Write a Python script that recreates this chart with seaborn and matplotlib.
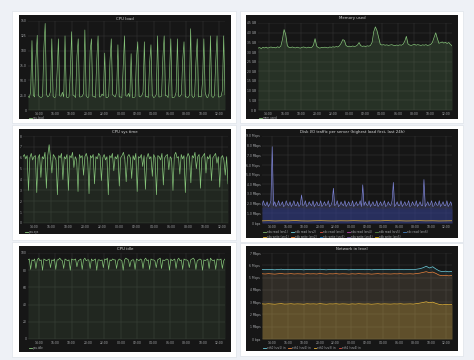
#! /usr/bin/env python3

import numpy as np
import seaborn as sns
import matplotlib.pyplot as plt
from matplotlib.patches import Rectangle
from matplotlib.lines import Line2D

# ---- data ----
time_labels = ["14:00", "16:00", "18:00", "20:00", "22:00", "00:00",
               "02:00", "04:00", "06:00", "08:00", "10:00", "12:00"]

cpu_load = [
    23, 21, 30, 117, 25, 22, 86, 126, 24, 22,
    21, 23, 104, 146, 26, 22, 24, 31, 120, 23,
    21, 22, 64, 120, 24, 23, 30, 22, 125, 22,
    21, 22, 62, 132, 25, 24, 21, 90, 120, 22,
    22, 23, 28, 135, 24, 21, 22, 100, 120, 23,
    23, 21, 84, 125, 22, 22, 27, 24, 96, 21,
    21, 23, 82, 120, 26, 24, 22, 30, 110, 22,
    22, 21, 75, 125, 24, 23, 28, 22, 95, 21,
    21, 22, 86, 115, 23, 22, 24, 30, 115, 22,
    23, 21, 80, 110, 25, 21, 22, 26, 125, 22,
    22, 23, 88, 125, 24, 24, 21, 60, 120, 21,
    21, 22, 30, 120, 23, 23, 26, 84, 115, 22,
    22, 21, 24, 137, 24, 21, 23, 80, 120, 22,
    23, 22, 48, 120, 30, 22, 21, 28, 125, 23,
    21, 24, 82, 125, 22, 22, 23, 33, 125, 26,
]

memory_used = [
    32.0, 32.3, 31.8, 32.4, 32.1, 32.5, 32.0, 32.3, 32.6, 32.2,
    32.4, 32.1, 32.7, 32.3, 33.0, 36.5, 41.6, 39.0, 33.2, 32.4,
    32.2, 32.6, 32.3, 32.1, 32.5, 32.2, 32.0, 32.4, 32.6, 32.3,
    32.1, 32.5, 32.2, 32.4, 33.5, 36.9, 33.0, 32.3, 32.0, 32.4,
    32.2, 32.5, 32.3, 32.1, 32.6, 32.4, 32.7, 32.5, 32.8, 32.6,
    33.2, 34.5, 36.4, 36.0, 33.4, 32.8, 33.0, 32.7, 33.1, 32.9,
    33.0, 33.6, 34.9, 33.3, 32.9, 33.1, 32.8, 33.2, 33.0, 33.4,
    35.0, 40.5, 43.0, 41.0, 37.5, 34.0, 33.6, 33.8, 33.5, 33.7,
    33.4, 33.6, 33.8, 33.5, 33.3, 33.6, 33.4, 33.7, 33.5, 34.0,
    35.5, 38.1, 34.2, 33.6, 33.4, 33.7, 34.0, 33.5, 33.8, 33.6,
    33.4, 33.7, 33.5, 33.8, 33.4, 33.6, 33.9, 35.0, 37.5, 39.9,
    37.0, 34.5, 34.8, 35.2, 34.6, 35.0, 34.4, 34.9, 34.0, 33.2,
]

cpu_sys = [
    6.1, 6.3, 5.9, 6.2, 3.0, 6.0, 6.4, 5.8, 6.1, 6.2,
    2.8, 6.0, 6.3, 4.2, 6.1, 5.9, 6.5, 3.2, 6.2, 7.2,
    6.0, 4.6, 6.3, 6.1, 5.8, 2.6, 6.2, 6.0, 6.4, 4.0,
    6.1, 5.9, 6.3, 3.0, 6.2, 6.0, 6.5, 5.1, 6.1, 5.8,
    2.9, 6.3, 6.0, 6.2, 4.4, 6.1, 6.4, 5.9, 2.7, 6.2,
    6.0, 6.3, 3.6, 6.1, 5.9, 6.4, 6.2, 3.9, 6.0, 6.3,
    5.8, 6.1, 2.6, 6.2, 6.0, 6.4, 4.8, 6.1, 5.9, 6.3,
    3.4, 6.0, 6.2, 6.5, 5.9, 3.8, 6.1, 6.3, 6.0, 4.1,
    6.2, 5.8, 6.4, 2.9, 6.1, 6.0, 6.3, 5.2, 6.2, 3.1,
    6.0, 6.4, 5.9, 6.1, 4.3, 6.3, 6.0, 2.6, 6.2, 6.1,
    5.8, 6.4, 3.5, 6.0, 6.2, 6.3, 4.9, 6.1, 5.9, 3.0,
    6.2, 6.5, 6.0, 6.1, 4.5, 6.3, 5.9, 6.2, 2.8, 6.0,
    6.4, 6.1, 3.7, 6.2, 6.0, 6.5, 5.0, 6.1, 6.3, 3.2,
    6.0, 6.2, 6.4, 4.6, 6.1, 5.9, 6.3, 3.9, 6.0, 6.2,
    6.4, 5.5, 6.1, 3.3, 6.0, 6.2, 5.8, 4.4, 6.1, 3.6,
]

disk_sda = [
    1.8, 2.3, 1.9, 1.8, 2.2, 1.7, 1.9, 2.3, 7.9, 1.8,
    2.2, 1.7, 1.9, 2.3, 1.8, 1.9, 2.2, 1.7, 1.8, 2.3,
    1.9, 1.8, 2.2, 1.7, 1.9, 2.3, 1.8, 1.8, 2.2, 1.7,
    1.9, 2.9, 1.8, 1.9, 2.3, 1.7, 1.8, 2.2, 1.9, 1.8,
    2.3, 1.7, 1.9, 2.2, 1.8, 1.8, 2.3, 1.7, 1.9, 2.2,
    1.8, 1.9, 2.3, 1.7, 1.8, 2.2, 3.6, 1.8, 1.9, 2.3,
    1.7, 1.8, 2.2, 1.9, 1.8, 2.3, 1.7, 1.9, 2.2, 1.8,
    1.8, 2.3, 1.7, 1.9, 2.2, 1.8, 1.9, 2.3, 1.7, 3.95,
    1.8, 2.2, 1.9, 1.8, 2.3, 1.7, 1.9, 2.2, 1.8, 1.8,
    2.3, 1.7, 1.9, 2.2, 1.8, 1.9, 2.3, 1.7, 1.8, 2.2,
    1.9, 1.8, 2.3, 4.2, 1.7, 1.9, 2.2, 1.8, 1.8, 2.3,
    1.7, 1.9, 2.2, 1.8, 1.9, 2.3, 1.7, 1.8, 2.2, 1.9,
    1.8, 2.3, 1.7, 1.9, 2.2, 1.8, 1.8, 4.5, 1.7, 1.9,
    2.2, 1.8, 1.9, 2.3, 1.7, 1.8, 2.2, 1.9, 1.8, 2.3,
    1.7, 1.9, 2.2, 1.8, 1.8, 2.3, 1.7, 1.9, 2.2, 1.8,
]
disk_sdb = [
    1.45, 1.48, 1.44, 1.47, 1.46, 1.45, 1.49, 1.44, 1.46, 1.47,
    1.45, 1.48, 1.46, 1.44, 1.47, 1.45, 1.46, 1.48, 1.45, 1.44,
    1.47, 1.46, 1.45, 1.48, 1.44, 1.46, 1.47, 1.45, 1.46, 1.45,
]
disk_sdc = [
    0.22, 0.24, 0.21, 0.23, 0.22, 0.25, 0.22, 0.21, 0.23, 0.24,
    0.22, 0.21, 0.23, 0.22, 0.24, 0.22, 0.21, 0.23, 0.22, 0.25,
    0.22, 0.23, 0.21, 0.22, 0.24, 0.22, 0.23, 0.21, 0.22, 0.23,
]
disk_labels = ["sda read (srv1)", "sda write (srv1)", "sdb read (srv2)",
               "sdb write (srv2)", "sdc read (srv3)", "sdc write (srv3)",
               "sda read (srv4)", "sda write (srv4)", "sdb read (srv5)",
               "sdb write (srv5)", "sdc read (srv6)"]

cpu_idle = [
    92, 93, 81, 92, 91, 93, 82, 92, 94, 91,
    92, 80, 93, 92, 91, 92, 93, 83, 92, 91,
    93, 81, 92, 92, 94, 92, 91, 82, 93, 92,
    91, 92, 80, 93, 92, 92, 93, 84, 91, 92,
    93, 81, 92, 94, 91, 92, 92, 82, 93, 91,
    92, 93, 80, 92, 92, 91, 92, 83, 93, 92,
    94, 81, 92, 91, 93, 92, 92, 82, 91, 93,
    92, 91, 80, 92, 94, 93, 92, 84, 91, 92,
    92, 81, 93, 92, 91, 93, 92, 82, 92, 94,
    91, 92, 81, 93, 92, 92, 91, 83, 92, 93,
    94, 82, 92, 91, 92, 93, 92, 80, 93, 91,
    92, 93, 82, 92, 94, 91, 92, 81, 93, 92,
    92, 91, 83, 92, 93, 94, 92, 81, 91, 92,
    93, 92, 80, 92, 91, 92, 93, 82, 94, 92,
    91, 92, 81, 93, 92, 92, 93, 82, 91, 93,
]

net_cyan = [
    5.66, 5.64, 5.67, 5.65, 5.63, 5.66, 5.68, 5.64, 5.65, 5.67,
    5.64, 5.66, 5.65, 5.63, 5.67, 5.65, 5.66, 5.64, 5.68, 5.65,
    5.63, 5.66, 5.65, 5.67, 5.64, 5.66, 5.65, 5.63, 5.66, 5.64,
    5.67, 5.65, 5.64, 5.66, 5.63, 5.65, 5.67, 5.64, 5.66, 5.65,
    5.64, 5.66, 5.65, 5.67, 5.64, 5.65, 5.66, 5.64, 5.68, 5.72,
    5.80, 5.92, 5.78, 5.88, 5.70, 5.55, 5.48, 5.52, 5.47, 5.50,
]
net_orange = [
    5.31, 5.29, 5.32, 5.30, 5.28, 5.31, 5.33, 5.29, 5.30, 5.32,
    5.29, 5.31, 5.30, 5.28, 5.32, 5.30, 5.31, 5.29, 5.33, 5.30,
    5.28, 5.31, 5.30, 5.32, 5.29, 5.31, 5.30, 5.28, 5.31, 5.29,
    5.32, 5.30, 5.29, 5.31, 5.28, 5.30, 5.32, 5.29, 5.31, 5.30,
    5.29, 5.31, 5.30, 5.32, 5.29, 5.30, 5.31, 5.29, 5.33, 5.36,
    5.42, 5.48, 5.40, 5.45, 5.34, 5.20, 5.15, 5.18, 5.14, 5.17,
]
net_yellow = [
    2.86, 2.84, 2.87, 2.85, 2.83, 2.86, 2.88, 2.84, 2.85, 2.87,
    2.84, 2.86, 2.85, 2.83, 2.87, 2.85, 2.86, 2.84, 2.88, 2.85,
    2.83, 2.86, 2.85, 2.87, 2.84, 2.86, 2.85, 2.83, 2.86, 2.84,
    2.87, 2.85, 2.84, 2.86, 2.83, 2.85, 2.87, 2.84, 2.86, 2.85,
    2.84, 2.86, 2.85, 2.87, 2.84, 2.85, 2.86, 2.84, 2.88, 2.92,
    2.97, 3.03, 2.95, 3.00, 2.90, 2.82, 2.78, 2.81, 2.79, 2.80,
]
net_labels = ["eth0 (srv1) in", "eth1 (srv2) in", "eth0 (srv3) in", "eth1 (srv4) in"]

# ---- layout helpers (pixel boxes on a 474x360 canvas) ----
W, H = 474, 360
BG = '#161616'
TXT = '#a9abae'
GREEN = '#86c57a'


def fbox(x1, y1, x2, y2):
    return [x1 / W, 1 - y2 / H, (x2 - x1) / W, (y2 - y1) / H]


def panel(fig, outer, inner, title):
    x1, y1, x2, y2 = outer
    fig.add_artist(Rectangle((x1 / W, 1 - y2 / H), (x2 - x1) / W, (y2 - y1) / H,
                             transform=fig.transFigure, facecolor=BG,
                             edgecolor='none', zorder=1))
    fig.text((x1 + x2) / 2 / W, 1 - (y1 + 3.5) / H, title, color='#d8d9da',
             fontsize=2.8, ha='center', va='center', zorder=3)
    ax = fig.add_axes(fbox(*inner), zorder=2)
    ax.set_facecolor(BG)
    for s in ax.spines.values():
        s.set_visible(False)
    ax.grid(True, color='#3a3a3a', linewidth=0.35)
    ax.set_axisbelow(True)
    ax.tick_params(length=0, labelsize=2.2, labelcolor=TXT, pad=1.2)
    ax.set_xlim(0, 24)
    ax.set_xticks([1.3 + 2 * k for k in range(len(time_labels))])
    ax.set_xticklabels(time_labels)
    ax.set_xlabel('')
    ax.set_ylabel('')
    return ax


def series(ax, vals, color, lw=0.5, alpha=0.12, label=None):
    x = np.linspace(0, 24, len(vals))
    ax.fill_between(x, 0, vals, color=color, alpha=alpha, linewidth=0)
    sns.lineplot(x=x, y=vals, ax=ax, color=color, linewidth=lw, label=label,
                 legend=False)


def small_legend(ax, handles, labels, anchor, ncol):
    ax.legend(handles, labels, loc='upper left', bbox_to_anchor=anchor,
              bbox_transform=ax.figure.transFigure, ncol=ncol, frameon=False,
              fontsize=2.0, labelcolor=TXT, handlelength=0.9,
              handletextpad=0.4, columnspacing=1.0, borderpad=0,
              labelspacing=0.25)


fig = plt.figure(figsize=(4.74, 3.6), dpi=100, facecolor='#eef1f6')

# white cards behind the panels
for (x1, y1, x2, y2) in [(12, 11, 236, 123), (240, 11, 463, 123),
                         (12, 125, 236, 240), (240, 125, 463, 242),
                         (12, 242, 236, 357), (240, 243, 463, 356)]:
    fig.add_artist(Rectangle((x1 / W, 1 - y2 / H), (x2 - x1) / W, (y2 - y1) / H,
                             transform=fig.transFigure, facecolor='white',
                             edgecolor='#dfe3ea', linewidth=0.5, zorder=0))

# CPU load
ax = panel(fig, (19, 15, 231, 119), (28, 21, 225, 110), 'CPU load')
series(ax, cpu_load, GREEN, lw=0.45, alpha=0.14)
ax.set_ylim(0, 150)
ax.set_yticks([0, 25, 50, 75, 100, 125, 150])
ax.set_yticklabels(['0', '25.0', '50.0', '75.0', '100', '125', '150'])
small_legend(ax, [Line2D([], [], color=GREEN, lw=0.6)], ['cpu.load'],
             (28 / W, 1 - 114.5 / H), 1)

# Memory used
ax = panel(fig, (246, 15, 458, 119), (258, 23, 452, 110), 'Memory used')
series(ax, memory_used, GREEN, alpha=0.16)
ax.set_ylim(0, 45)
ax.set_yticks(range(0, 50, 5))
ax.set_yticklabels(['0 B'] + ['%d GB' % v for v in range(5, 50, 5)])
small_legend(ax, [Line2D([], [], color=GREEN, lw=0.6)], ['mem.used'],
             (258 / W, 1 - 114.5 / H), 1)

# CPU sys time
ax = panel(fig, (19, 129, 231, 234), (23, 136, 228, 223), 'CPU sys time')
series(ax, cpu_sys, GREEN, alpha=0.1)
ax.set_ylim(0, 8)
ax.set_yticks(range(0, 9))
small_legend(ax, [Line2D([], [], color=GREEN, lw=0.6)], ['cpu.sys'],
             (24 / W, 1 - 229 / H), 1)

# Disk I/O
ax = panel(fig, (246, 129, 458, 238), (262, 136, 452, 223),
           'Disk I/O traffic per server (highest load first, last 24h)')
series(ax, disk_sda, '#8087dc', lw=0.45, alpha=0.22)
series(ax, disk_sdb, '#25307a', lw=0.3, alpha=0.5)
series(ax, disk_sdc, '#eab839', lw=0.5, alpha=0.0)
ax.set_ylim(0, 9)
ax.set_yticks(range(0, 10))
ax.set_yticklabels(['0 bps'] + ['%.1f Mbps' % v for v in range(1, 10)])
disk_colors = ['#7eb26d', '#eab839', '#6ed0e0', '#ef843c', '#e24d42',
               '#1f78c1', '#ba43a9', '#705da0', '#508642', '#cca300',
               '#447ebc']
small_legend(ax, [Line2D([], [], color=c, lw=0.6) for c in disk_colors],
             disk_labels, (262 / W, 1 - 229 / H), 6)

# CPU idle
ax = panel(fig, (19, 246, 231, 352), (28, 253, 225, 339), 'CPU idle')
series(ax, cpu_idle, GREEN, alpha=0.1)
ax.set_ylim(0, 100)
ax.set_yticks(range(0, 101, 20))
small_legend(ax, [Line2D([], [], color=GREEN, lw=0.6)], ['cpu.idle'],
             (28 / W, 1 - 345 / H), 1)

# Network in level
ax = panel(fig, (246, 246, 458, 351), (262, 253, 452, 339), 'Network in level')
net_colors = ['#6ed0e0', '#ef843c', '#eab839', '#e24d42']
series(ax, net_cyan, net_colors[0], alpha=0.08)
series(ax, net_orange, net_colors[1], alpha=0.1)
series(ax, net_yellow, net_colors[2], alpha=0.25)
ax.set_ylim(0, 7)
ax.set_yticks(range(0, 8))
ax.set_yticklabels(['0 bps'] + ['%d Mbps' % v for v in range(1, 8)])
small_legend(ax, [Line2D([], [], color=c, lw=0.6) for c in net_colors],
             net_labels, (262 / W, 1 - 345 / H), 4)

fig.savefig('out.png', dpi=100, facecolor=fig.get_facecolor())
